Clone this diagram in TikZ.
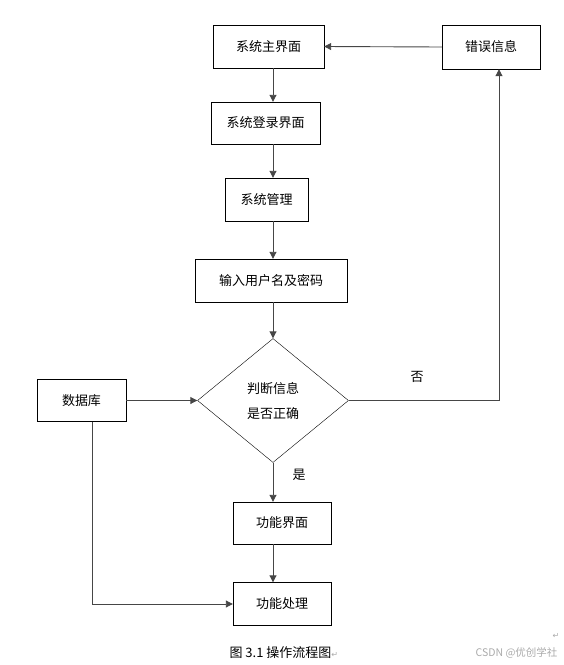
\documentclass[tikz,border=0pt]{standalone}
\usepackage{fontspec}
\setmainfont{Noto Sans CJK SC}
\newfontfamily\symfont{DejaVu Sans}
\usepackage{tikz}
\usetikzlibrary{shapes.geometric,arrows.meta,positioning,calc}
\definecolor{lineGrey}{RGB}{70,70,70}
\definecolor{markGrey}{RGB}{170,170,170}

\begin{document}
\begin{tikzpicture}[
  x=1pt, y=-1pt,
  every node/.style={font=\fontsize{13}{15}\selectfont},
  box/.style={draw=black, fill=white, inner sep=0pt, align=center},
  decision/.style={diamond, draw=black, fill=white, inner sep=0pt,
                   minimum width=151pt, minimum height=124pt, align=left,
                   font=\fontsize{13}{25}\selectfont},
  flow/.style={-{Triangle[length=7pt,width=7pt]}, lineGrey, line width=0.9pt},
]
\useasboundingbox (0,0) rectangle (564,665);
% main column, arrows run down x = 273
\coordinate (axis) at (273,0);
\node[box, minimum width=111pt, minimum height=43pt] (mainui) at (268.5,46.5) {系统主界面};
\node[box, minimum width=109pt, minimum height=42pt] (login) at (265.5,123) {系统登录界面};
\node[box, minimum width=83pt, minimum height=43pt] (sysmgr) at (266.5,199.5) {系统管理};
\node[box, minimum width=152pt, minimum height=43pt] (input) at (271,280.5) {输入用户名及密码};
\node[decision] (check) at (273,400.5) {判断信息\\是否正确};
\node[box, minimum width=98pt, minimum height=42pt] (funcui) at (282,523) {功能界面};
\node[box, minimum width=98pt, minimum height=43pt] (funcproc) at (282,604) {功能处理};

% side boxes
\node[box, minimum width=98pt, minimum height=44pt] (errmsg) at (491,47) {错误信息};
\node[box, minimum width=89pt, minimum height=42pt] (db) at (81.5,400.5) {数据库};

% flow down
\draw[flow] (mainui.south -| axis) -- (login.north -| axis);
\draw[flow] (login.south -| axis) -- (sysmgr.north -| axis);
\draw[flow] (sysmgr.south -| axis) -- (input.north -| axis);
\draw[flow] (input.south -| axis) -- (check.north);
\draw[flow] (check.south) -- (funcui.north -| axis);
\draw[flow] (funcui.south -| axis) -- (funcproc.north -| axis);

% wrong branch
\draw[flow] (check.east) -| ([xshift=8pt]errmsg.south);
\draw[flow] (errmsg.west) -- (mainui.east);

% database
\draw[flow] (db.east) -- (check.west);
\draw[flow] ([xshift=11pt]db.south) -- ([xshift=11pt]db.south |- funcproc.west) -- (funcproc.west);

% branch labels
\node (nolbl) at (417,377) {否};
\node (yeslbl) at (299,475) {是};

% caption
\node[anchor=west] (caption) at (226,653) {图 3.1 操作流程图{\color{markGrey}\symfont\fontsize{8}{8}\selectfont ↵}};
\node[markGrey, font=\symfont\fontsize{8}{8}\selectfont] (retmark) at (556,636) {↵};
\node[anchor=east, markGrey, font=\fontsize{10.5}{12}\selectfont] (wmark) at (561,653) {CSDN @优创学社};
\end{tikzpicture}
\end{document}
